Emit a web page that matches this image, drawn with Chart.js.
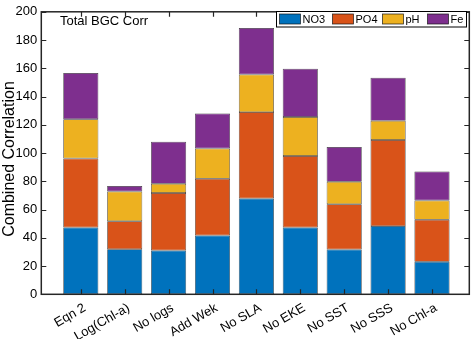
<!DOCTYPE html>
<html>
<head>
<meta charset="utf-8">
<script src="https://cdn.jsdelivr.net/npm/chart.js@4/dist/chart.umd.min.js"></script>
<style>
  html, body { margin: 0; padding: 0; background: #fff; }
  #wrap { width: 474px; height: 339px; }
</style>
</head>
<body>
<div id="wrap"><canvas id="c" width="474" height="339"></canvas></div>
<script>
// Model variants (x categories)
const categories = ['Eqn 2', 'Log(Chl-a)', 'No logs', 'Add Wek', 'No SLA', 'No EKE', 'No SST', 'No SSS', 'No Chl-a'];

// Correlation contribution of each variable, stacked per variant
const no3 = [47.3, 31.9, 31.0, 41.6, 67.8, 47.3, 31.7, 48.3, 23.0];
const po4 = [48.8, 19.8, 40.7, 40.2, 61.2, 50.6, 32.0, 60.9, 29.8];
const ph  = [27.8, 21.1,  6.6, 21.4, 26.6, 27.6, 16.0, 13.6, 13.6];
const fe  = [32.7,  3.8, 29.7, 24.8, 32.9, 34.2, 24.6, 30.5, 20.5];

const seriesNames = ['NO3', 'PO4', 'pH', 'Fe'];
const yTicks = [0, 20, 40, 60, 80, 100, 120, 140, 160, 180, 200];

const colors = ['#0072BD', '#D95319', '#EDB120', '#7E2F8E'];
const axisColor = '#262626';
const edgeColor = 'rgba(20,20,20,0.85)';
const FONT = '"Liberation Sans", Arial, Helvetica, sans-serif';

function toPoints(arr) {
  return arr.map((v, i) => ({ x: i + 1, y: v }));
}

const datasets = [no3, po4, ph, fe].map((arr, k) => ({
  label: seriesNames[k],
  data: toPoints(arr),
  backgroundColor: colors[k],
  borderColor: edgeColor,
  borderWidth: 0.7,
  borderSkipped: false,
  categoryPercentage: 1.0,
  barPercentage: 0.8
}));

// Axes box with inward ticks, panel label and boxed legend
const decorations = {
  id: 'decorations',
  afterDatasetsDraw(chart) {
    const ctx = chart.ctx;
    const a = chart.chartArea;
    const xs = chart.scales.x, ys = chart.scales.y;
    const tl = 5;
    ctx.save();
    ctx.strokeStyle = axisColor;
    ctx.lineWidth = 1.2;
    ctx.beginPath();
    categories.forEach((c, i) => {
      const px = Math.round(xs.getPixelForValue(i + 1)) + 0.5;
      ctx.moveTo(px, a.bottom); ctx.lineTo(px, a.bottom - tl);
      ctx.moveTo(px, a.top); ctx.lineTo(px, a.top + tl);
    });
    yTicks.forEach(v => {
      const py = Math.round(ys.getPixelForValue(v)) + 0.5;
      ctx.moveTo(a.left, py); ctx.lineTo(a.left + tl, py);
      ctx.moveTo(a.right, py); ctx.lineTo(a.right - tl, py);
    });
    ctx.stroke();
    ctx.lineWidth = 1.5;
    ctx.strokeRect(a.left, a.top, a.right - a.left, a.bottom - a.top);

    // panel label
    ctx.fillStyle = '#000';
    ctx.font = '13px ' + FONT;
    ctx.textBaseline = 'alphabetic';
    ctx.textAlign = 'left';
    ctx.fillText('Total BGC Corr', 60, 25);

    // legend
    const lx0 = 276.5, lx1 = 466.5, ly0 = 11.5, ly1 = 27;
    ctx.fillStyle = '#fff';
    ctx.fillRect(lx0, ly0, lx1 - lx0, ly1 - ly0);
    ctx.strokeStyle = '#000';
    ctx.lineWidth = 1;
    ctx.strokeRect(lx0, ly0, lx1 - lx0, ly1 - ly0);
    const swatchX = [279.5, 332.5, 382.5, 427.5];
    ctx.font = '11px ' + FONT;
    chart.data.datasets.forEach((ds, k) => {
      ctx.fillStyle = ds.backgroundColor;
      ctx.fillRect(swatchX[k], 14, 21, 10);
      ctx.strokeStyle = edgeColor;
      ctx.lineWidth = 0.8;
      ctx.strokeRect(swatchX[k], 14, 21, 10);
      ctx.fillStyle = '#000';
      ctx.fillText(ds.label, swatchX[k] + 23, 23.3);
    });
    ctx.restore();

    // y axis title
    ctx.save();
    ctx.fillStyle = '#000';
    ctx.font = '16px ' + FONT;
    ctx.textAlign = 'center';
    ctx.textBaseline = 'middle';
    ctx.translate(10, 159);
    ctx.rotate(-Math.PI / 2);
    ctx.fillText('Combined Correlation', 0, 0);
    ctx.restore();
  }
};

new Chart(document.getElementById('c'), {
  type: 'bar',
  data: { datasets },
  options: {
    responsive: false,
    animation: false,
    devicePixelRatio: 1,
    layout: { padding: { top: 4.3, right: 4.7, left: 0, bottom: 0 } },
    plugins: {
      legend: { display: false },
      tooltip: { enabled: false },
      title: { display: false }
    },
    scales: {
      x: {
        type: 'linear',
        stacked: true,
        min: 0.1,
        max: 9.85,
        offset: false,
        grid: { display: false, drawTicks: false },
        border: { display: false },
        afterBuildTicks(scale) {
          scale.ticks = categories.map((c, i) => ({ value: i + 1 }));
        },
        afterFit(scale) { scale.height = 44.7; },
        ticks: {
          autoSkip: false,
          minRotation: 30,
          maxRotation: 30,
          padding: 6,
          labelOffset: 4,
          color: '#000',
          font: { family: FONT, size: 13 },
          callback(v) { return categories[Math.round(v) - 1] || ''; }
        }
      },
      y: {
        stacked: true,
        min: 0,
        max: 200,
        grid: { display: false, drawTicks: false },
        border: { display: false },
        afterBuildTicks(scale) {
          scale.ticks = yTicks.map(v => ({ value: v }));
        },
        afterFit(scale) { scale.width = 41.3; },
        ticks: {
          padding: 4,
          color: '#000',
          font: { family: FONT, size: 13 }
        }
      }
    }
  },
  plugins: [decorations]
});
</script>
</body>
</html>
